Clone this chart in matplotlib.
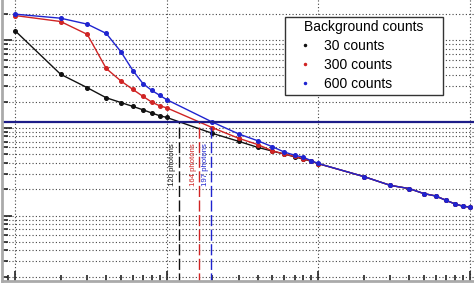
import numpy as np
import matplotlib.pyplot as plt
from matplotlib.lines import Line2D
from matplotlib.ticker import LogLocator, NullFormatter

plt.rcParams['font.family'] = ['Liberation Sans', 'DejaVu Sans']

photons = [10, 20, 30, 40, 50, 60, 70, 80, 90, 100,
           200, 300, 400, 500, 600, 700, 800, 900, 1000,
           2000, 3000, 4000, 5000, 6000, 7000, 8000, 9000, 10000]

tail = [2.79, 2.21, 2.03, 1.78, 1.67, 1.49, 1.36, 1.28, 1.25]
bg30 = [129, 41.0, 28.8, 22.1, 19.5, 17.6, 16.1, 14.8, 13.8, 13.2,
        8.69, 7.03, 6.00, 5.44, 5.03, 4.68, 4.40, 4.18, 3.92] + tail
bg300 = [192, 164, 117, 47.7, 34.4, 27.5, 22.9, 19.7, 17.9, 17.0,
         10.1, 7.61, 6.46, 5.48, 5.03, 4.73, 4.46, 4.18, 3.92] + tail
bg600 = [199, 179, 153, 120, 74.1, 45.2, 32.0, 26.8, 23.6, 21.1,
         11.7, 8.53, 7.14, 6.10, 5.30, 4.89, 4.64, 4.23, 3.93] + tail

series = [bg30, bg300, bg600]
series_labels = ['30 counts', '300 counts', '600 counts']
colors = ['#111111', '#d02424', '#1f24d0']

threshold = 11.8
crossings = [120, 164, 197]
crossing_labels = ['120 photons', '164 photons', '197 photons']

fig = plt.figure(figsize=(4.74, 2.83), dpi=100)
# axes frame runs past the top and right edge (cropped figure)
ax = fig.add_axes([2 / 474, 2 / 283, 478 / 474, 288 / 283])
ax.set_xscale('log')
ax.set_yscale('log')
ax.set_xlim(8.21, 11720)
ax.set_ylim(0.179, 347)

ax.xaxis.set_major_locator(LogLocator(base=10, numticks=100))
ax.xaxis.set_minor_locator(LogLocator(base=10, subs=np.arange(2, 10), numticks=100))
ax.yaxis.set_major_locator(LogLocator(base=10, numticks=100))
ax.yaxis.set_minor_locator(LogLocator(base=10, subs=np.arange(2, 10), numticks=100))
ax.xaxis.set_minor_formatter(NullFormatter())
ax.yaxis.set_minor_formatter(NullFormatter())
ax.tick_params(which='both', direction='in', labelleft=False, labelbottom=False,
               color='#222222', width=1.2)
ax.tick_params(which='major', length=7)
ax.tick_params(which='minor', length=4)

ax.grid(which='both', axis='y', linestyle=(0, (1, 2)), color='#444444', lw=0.8)
ax.grid(which='major', axis='x', linestyle=(0, (1, 2)), color='#444444', lw=0.8)
for s in ['left', 'bottom']:
    ax.spines[s].set_color('#aaaaaa')
    ax.spines[s].set_linewidth(2)

for vals, c in zip(series, colors):
    ax.plot(photons, vals, color=c, lw=1.0, marker='o', ms=2.6)

ax.axhline(threshold, color='#1c1c88', lw=1.6)

for xv, lab, c in zip(crossings, crossing_labels, colors):
    ax.vlines(xv, 0.1, threshold, colors=c, lw=1.0, linestyles=(0, (8, 2.5)))
    ax.annotate(lab, xy=(xv, 3.8), xytext=(-4, 0), textcoords='offset points',
                rotation=90, ha='center', va='center', fontsize=5.6, color=c)

handles = [Line2D([], [], color=c, marker='.', ms=3, ls='none') for c in colors]
leg = ax.legend(handles, series_labels, title='Background counts', fontsize=10,
                title_fontsize=10, loc='upper left', mode='expand',
                bbox_to_anchor=(285 / 474, (283 - 93) / 283, 158 / 474, 76 / 283),
                bbox_transform=fig.transFigure, borderaxespad=0, borderpad=0.25,
                labelspacing=0.35, handlelength=2.4, handletextpad=0.15,
                fancybox=False, framealpha=1, edgecolor='#333333')
leg.get_frame().set_linewidth(1.0)

fig.savefig('out.png', dpi=100)
